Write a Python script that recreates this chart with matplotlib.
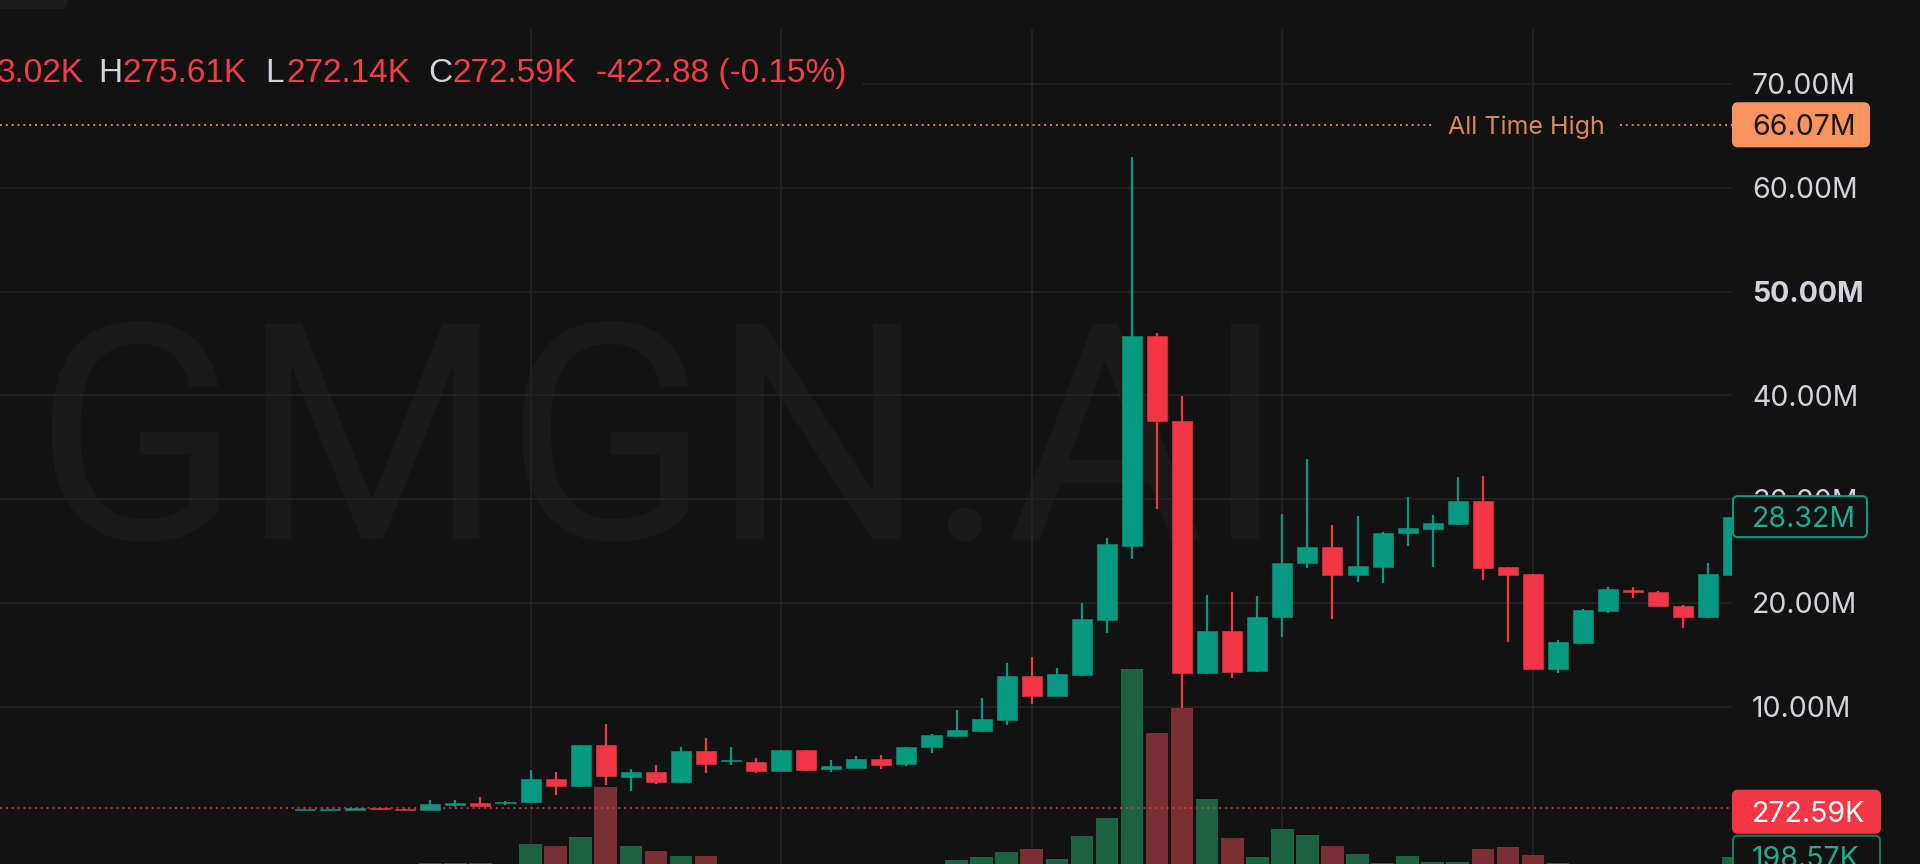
import matplotlib
matplotlib.use("Agg")
import matplotlib.pyplot as plt
from matplotlib.patches import FancyBboxPatch
from matplotlib.transforms import IdentityTransform
import numpy as np

# ---------------- data (prices in millions, volumes in thousands) ----------------
opens = [0.02, 0.05, 0.09, 0.16, 0.12, 0.08, 0.56, 0.76, 0.72, 0.78,
         3.07, 2.35, 6.33, 3.25, 3.70, 2.75, 5.70, 4.75, 4.70, 3.85,
         5.80, 4.00, 4.15, 5.00, 4.50, 6.10, 7.19, 7.67, 8.73, 12.97,
         11.07, 13.06, 18.36, 25.52, 45.72, 37.53, 13.29, 17.30, 13.45, 18.68,
         23.82, 25.42, 22.70, 23.50, 26.71, 27.13, 27.58, 29.83, 23.44, 22.79,
         13.61, 16.18, 19.26, 21.25, 21.09, 19.74, 18.68, 22.70]
highs = [0.08, 0.14, 0.22, 0.20, 0.16, 1.02, 1.06, 1.28, 0.90, 3.95,
         3.70, 6.33, 8.30, 4.05, 4.35, 6.10, 7.00, 6.10, 5.10, 5.85,
         5.85, 4.85, 5.30, 5.40, 6.15, 7.35, 9.69, 10.82, 14.19, 14.77,
         13.71, 19.97, 26.23, 63.00, 46.04, 39.94, 20.77, 21.09, 20.70, 28.57,
         33.87, 27.51, 28.41, 26.80, 30.18, 28.48, 32.17, 32.24, 23.50, 22.80,
         16.40, 19.40, 21.57, 21.51, 21.18, 19.80, 23.88, 28.32]
lows = [0.01, 0.03, 0.07, 0.10, 0.05, 0.06, 0.30, 0.40, 0.54, 0.74,
        1.55, 2.30, 2.50, 1.85, 2.60, 2.70, 3.60, 4.40, 3.60, 3.80,
        3.80, 3.70, 4.10, 4.05, 4.25, 5.55, 7.12, 7.60, 8.25, 10.27,
        11.00, 13.00, 17.14, 24.21, 29.03, 9.86, 13.20, 12.74, 13.40, 16.70,
        23.40, 18.43, 22.05, 21.90, 25.49, 23.50, 27.50, 22.22, 16.27, 13.61,
        13.23, 16.10, 19.01, 20.45, 19.70, 17.62, 18.60, 22.60]
closes = [0.06, 0.10, 0.16, 0.12, 0.08, 0.64, 0.76, 0.46, 0.86, 3.07,
          2.35, 6.33, 3.30, 3.70, 2.75, 5.70, 4.50, 4.85, 3.85, 5.80,
          3.95, 4.25, 5.00, 4.40, 6.10, 7.30, 7.76, 8.82, 12.97, 11.07,
          13.16, 18.46, 25.65, 45.72, 37.53, 13.29, 17.30, 13.38, 18.68, 23.88,
          25.42, 22.70, 23.56, 26.77, 27.20, 27.68, 29.83, 23.34, 22.70, 13.61,
          16.27, 19.33, 21.32, 21.03, 19.74, 18.68, 22.79, 28.32]
volumes_k = [30, 45, 55, 60, 75, 147, 142, 142, 90, 304,
             290, 369, 790, 290, 247, 205, 205, 95, 80, 120,
             110, 70, 85, 75, 115, 125, 170, 194, 241, 264,
             179, 375, 531, 1799, 1256, 1464, 688, 355, 194, 432,
             384, 290, 222, 142, 205, 156, 156, 262, 284, 211,
             147, 110, 95, 60, 70, 85, 130, 198.57]

price_ticks = [10, 20, 30, 40, 50, 60, 70]
tick_labels = ["10.00M", "20.00M", "30.00M", "40.00M", "50.00M", "60.00M", "70.00M"]
bold_tick = 50
grid_candles = [9, 19, 29, 39, 49]

ath_value = 66.07
ath_label = "66.07M"
ath_text = "All Time High"
last_price_m = 0.27259
last_price_label = "272.59K"
last_close_label = "28.32M"
last_volume_k = 198.57
last_volume_label = "198.57K"
watermark = "GMGN.AI"

legend_parts = ["3.02K", "H", "275.61K", "L", "272.14K", "C", "272.59K", "-422.88 (-0.15%)"]
legend_is_key = [False, True, False, True, False, True, False, False]
legend_x = [-3, 98, 122, 265, 286, 428, 452, 596]

# ---------------- style ----------------
BG = "#121212"
GRID = "#232323"
UP = "#089981"
DOWN = "#f23645"
UP_VOL = "#1c6243"
DOWN_VOL = "#7a2f34"
TXT = "#d1d4dc"
ORANGE = "#f7935e"
ORANGE_DIM = "#d98858"
WM = "#19191a"

W, H = 1920, 864
PLOT_W = 1732
fig = plt.figure(figsize=(W / 100, H / 100), dpi=100)
fig.patch.set_facecolor(BG)

pos = [0, 0, PLOT_W / W, 1]
axg = fig.add_axes(pos)   # background grid / watermark
axv = fig.add_axes(pos)   # volume
ax = fig.add_axes(pos)    # candles
xlim = (-12.171, 56.943)
ylim = (-5.145, 78.092)
for a in (axg, ax):
    a.set_xlim(*xlim)
    a.set_ylim(*ylim)
axv.set_xlim(*xlim)
axv.set_ylim(136.4, 7502)
axg.set_facecolor(BG)
for a in (axv, ax):
    a.patch.set_alpha(0)
for a in (axg, axv, ax):
    a.axis("off")

n = len(opens)
xs = np.arange(n)
o = np.array(opens); c = np.array(closes); hi = np.array(highs); lo = np.array(lows)
up = c >= o

# grid
grid_top = (810.6 - 30) / 10.38
for t in price_ticks:
    xmin = 863 / PLOT_W if t == 70 else 0
    axg.axhline(t, xmin=xmin, xmax=1, color=GRID, lw=1.2, zorder=1)
for gi in grid_candles:
    axg.plot([gi, gi], [ylim[0], grid_top], color=GRID, lw=1.2, zorder=1)

# watermark (behind candles)
axg.text(34 / W, (H - 539) / H, watermark, fontsize=218, family="Roboto",
         fontweight="normal", color=WM, va="baseline", ha="left", zorder=0.5,
         transform=fig.transFigure)

# volume
vcol = [UP_VOL if u else DOWN_VOL for u in up]
axv.bar(xs, volumes_k, width=0.9, color=vcol, zorder=2)

# candles
col = np.where(up, UP, DOWN)
ax.vlines(xs, lo, hi, colors=col, lw=1.6, zorder=3)
body_lo = np.minimum(o, c)
body_h = np.maximum(np.abs(c - o), 0.12)
ax.bar(xs, body_h, bottom=body_lo, width=0.8, color=col, edgecolor=col, lw=0.4, zorder=4)

# last price line (red dotted)
ax.axhline(last_price_m, color=DOWN, lw=1.4, ls=(0, (1, 2)), alpha=0.8, zorder=5)
# ATH dotted line with label gap
ax.axhline(ath_value, xmin=0, xmax=1432 / PLOT_W, color=ORANGE_DIM, lw=1.4, ls=(0, (1, 2)), zorder=5)
ax.axhline(ath_value, xmin=1620 / PLOT_W, xmax=1, color=ORANGE_DIM, lw=1.4, ls=(0, (1, 2)), zorder=5)


def ypix(v):
    return ax.transData.transform((0, v))[1]


def ypix_vol(v):
    return axv.transData.transform((0, v))[1]


fig.text(1448 / W, ypix(ath_value) / H, ath_text, family="Inter", fontsize=18,
         color=ORANGE_DIM, va="center_baseline", ha="left", zorder=6)

# right axis tick labels
for t, lab in zip(price_ticks, tick_labels):
    bold = (t == bold_tick)
    fig.text(1752 / W, ypix(t) / H, lab, family="Inter", fontsize=20.5,
             fontweight="bold" if bold else "normal", color=TXT,
             va="center_baseline", ha="left", zorder=3)


def label_box(yc, x0, x1, h, face, edge, text, tcolor):
    p = FancyBboxPatch((x0, yc - h / 2), x1 - x0, h,
                       boxstyle="round,pad=0,rounding_size=5",
                       facecolor=face, edgecolor=edge, lw=1.5,
                       transform=IdentityTransform(), zorder=7)
    fig.add_artist(p)
    fig.text(1752 / W, yc / H, text, family="Inter", fontsize=20.5, color=tcolor,
             va="center_baseline", ha="left", zorder=8)


label_box(ypix(ath_value), 1733, 1869, 43, ORANGE, ORANGE, ath_label, "#1a1a1a")
label_box(ypix(closes[-1]), 1733, 1867, 41, BG, UP, last_close_label, "#22ab8e")
label_box(ypix(last_price_m) - 4, 1733, 1880, 42, DOWN, DOWN, last_price_label, "#ffffff")
label_box(ypix_vol(last_volume_k), 1733, 1880, 42, BG, "#1d7a55", last_volume_label, "#22ab8e")

# top-left rounded element
fig.add_artist(FancyBboxPatch((-30, H - 9), 98, 40, boxstyle="round,pad=0,rounding_size=8",
                              facecolor="#1c1c1c", edgecolor="none",
                              transform=IdentityTransform(), zorder=2))

# legend (OHLC)
for txt, key, lx in zip(legend_parts, legend_is_key, legend_x):
    fig.text(lx / W, (H - 82) / H, txt, family="Liberation Sans", fontsize=24,
             color=TXT if key else "#ef3d4a", va="baseline", ha="left", zorder=6)

fig.savefig("out.png", dpi=100, facecolor=BG)
